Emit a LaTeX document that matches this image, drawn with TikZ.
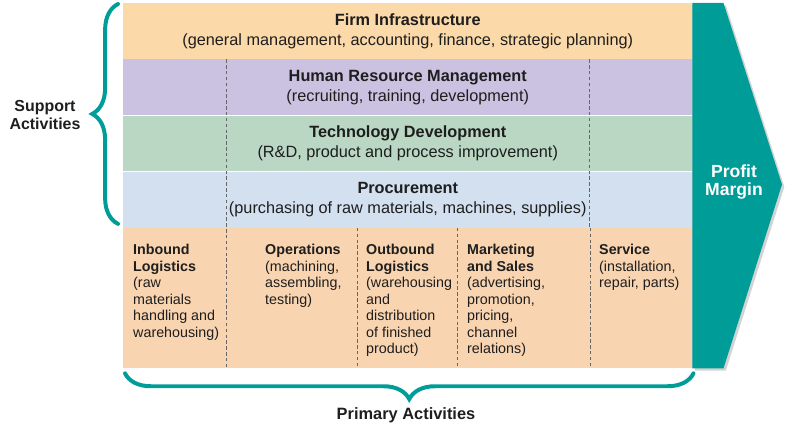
\documentclass[tikz,border=0pt]{standalone}
\usepackage{fontspec}
\setmainfont{Liberation Sans}
\usepackage{tikz}
\usetikzlibrary{positioning,calc,shadows,decorations.pathreplacing}
\definecolor{firmcol}{HTML}{FBD9A9}
\definecolor{hrmcol}{HTML}{CAC2E0}
\definecolor{techcol}{HTML}{B9D7C2}
\definecolor{proccol}{HTML}{D3E0F0}
\definecolor{primcol}{HTML}{F9D4B0}
\definecolor{tealcol}{HTML}{009C98}
\definecolor{textcol}{HTML}{1E1E1E}

\begin{document}
\begin{tikzpicture}[x=0.03cm, y=-0.03cm,
  every node/.style={font=\fontsize{12.2}{14.1}\selectfont, inner sep=0pt, text=textcol},
  band/.style={rectangle, minimum width=17.07cm, minimum height=1.6725cm, align=center, font=\fontsize{13.9}{16}\selectfont},
  col/.style={anchor=north west, align=left},
  divider/.style={gray!80!black, line width=0.5pt, dash pattern=on 3pt off 2pt},
  curly/.style={tealcol, line width=3.4pt, line cap=round, decorate}]
		\useasboundingbox (0,0) rectangle (800,428);
		
		\fill[white, drop shadow={shadow xshift=2pt, shadow yshift=-2pt, opacity=.35}] (123,3) rectangle (692,366);
		
		\node[band, fill=firmcol, anchor=north west] (s1) at (123,3) {\textbf{Firm Infrastructure}\\[1pt](general management, accounting, finance, strategic planning)};
		
		\node[band, fill=hrmcol, below =0pt of s1] (s2) {\textbf{Human Resource Management}\\[1pt](recruiting, training, development)};
		
		\node[band, fill=techcol, below =0pt of s2] (s3) {\textbf{Technology Development}\\[1pt](R\&D, product and process improvement)};
		
		\node[band, fill=proccol, below =0pt of s3] (s4) {\textbf{Procurement}\\[1pt](purchasing of raw materials, machines, supplies)};
		
		\node[band, fill=primcol, minimum height=4.2cm, below =0pt of s4] (p0) {};
		
		% dashed dividers
		\draw[divider] (226,0 |- s2.north) -- (226,0 |- p0.south);
		\draw[divider] (589,0 |- s2.north) -- (589,0 |- s4.south);
		\draw[divider] (357,0 |- p0.north) -- (357,0 |- p0.south);
		\draw[divider] (457,0 |- p0.north) -- (457,0 |- p0.south);
		\draw[divider] (590,0 |- p0.north) -- (590,0 |- p0.south);
		
		\node[col] (p1) at (133,244) {\textbf{Inbound}\\\textbf{Logistics}\\(raw\\materials\\handling and\\warehousing)};
		\node[col] (p2) at (265,244) {\textbf{Operations}\\(machining,\\assembling,\\testing)};
		\node[col] (p3) at (366,244) {\textbf{Outbound}\\\textbf{Logistics}\\(warehousing\\and\\distribution\\of finished\\product)};
		\node[col] (p4) at (467,244) {\textbf{Marketing}\\\textbf{and Sales}\\(advertising,\\promotion,\\pricing,\\channel\\relations)};
		\node[col] (p5) at (599,244) {\textbf{Service}\\(installation,\\repair, parts)};
		
		\fill[tealcol, drop shadow={shadow xshift=2pt, shadow yshift=-2pt, opacity=.35}] (s1.north east) -- ++(31,0) -- (782,184.5) -- ($(p0.south east)+(31,0)$) -- (p0.south east) -- cycle;
		\node[align=center, text=white, font=\fontsize{15}{15.4}\selectfont] (pm) at (734,182) {\textbf{Profit}\\\textbf{Margin}};
		
		\draw[curly, decoration={brace, amplitude=22pt}] ($(s4.south west)+(-5,-4)$) -- ($(s1.north west)+(-5,1)$);
		\node[align=center, font=\fontsize{13.6}{15.4}\selectfont] (sa) at (45,115) {\textbf{Support}\\\textbf{Activities}};
		
		\draw[curly, decoration={brace, mirror, amplitude=22pt}] ($(p0.south west)+(2,5)$) -- ($(p0.south east)+(1,5)$);
		\node[font=\fontsize{14}{16}\selectfont] (pa) at (406,415) {\textbf{Primary Activities}};
		
		\end{tikzpicture}
\end{document}
